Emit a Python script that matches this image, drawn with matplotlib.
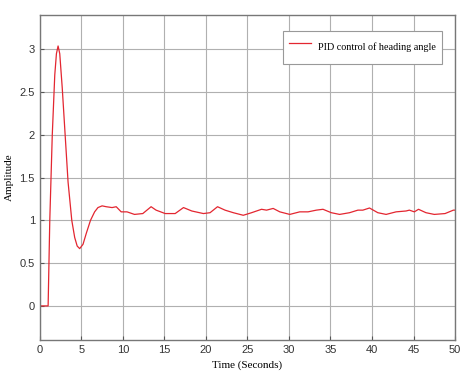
import matplotlib.pyplot as plt

# step response
time_s = [0, 1.0, 1.2, 1.5, 1.8, 2.0, 2.2, 2.4, 2.7, 3.05, 3.4, 3.85, 4.2, 4.5, 4.8,
          5.2, 5.6, 6.1, 6.6, 7.0, 7.5, 8.0, 8.7, 9.2, 9.8, 10.5, 11.4, 12.4,
          13.4, 14.0, 15.1, 16.3, 17.3, 18.3, 19.7, 20.5, 21.4, 22.3, 23.3,
          24.5, 25.5, 26.7, 27.3, 28.1, 28.9, 30.1, 31.3, 32.3, 33.3, 34.1,
          35.1, 36.1, 37.3, 38.3, 38.9, 39.7, 40.7, 41.7, 42.9, 44.1, 44.5,
          45.1, 45.6, 46.5, 47.5, 48.8, 49.8, 50.0]
amplitude = [0, 0, 1.0, 2.0, 2.7, 2.95, 3.04, 2.95, 2.55, 2.0, 1.45, 1.0, 0.8, 0.7, 0.67,
             0.72, 0.85, 1.0, 1.1, 1.15, 1.17, 1.16, 1.15, 1.16, 1.1, 1.1, 1.07, 1.08,
             1.16, 1.12, 1.08, 1.08, 1.15, 1.11, 1.08, 1.09, 1.16, 1.12, 1.09,
             1.06, 1.09, 1.13, 1.12, 1.14, 1.10, 1.07, 1.10, 1.10, 1.12, 1.13,
             1.09, 1.07, 1.09, 1.12, 1.12, 1.145, 1.09, 1.07, 1.10, 1.11, 1.12,
             1.10, 1.13, 1.09, 1.07, 1.08, 1.12, 1.12]
x_ticks = [0, 5, 10, 15, 20, 25, 30, 35, 40, 45, 50]
y_ticks = [0, 0.5, 1, 1.5, 2, 2.5, 3]
y_tick_labels = ['0', '0.5', '1', '1.5', '2', '2.5', '3']

fig = plt.figure(figsize=(4.74, 3.8), dpi=100)
ax = fig.add_axes([0.084, 0.105, 0.876, 0.855])

ax.plot(time_s, amplitude, color='#e32630', linewidth=0.9,
        label='PID control of heading angle')

ax.set_xlim(0, 50)
ax.set_ylim(-0.4, 3.4)
ax.set_xticks(x_ticks)
ax.set_yticks(y_ticks)
ax.set_yticklabels(y_tick_labels)
ax.grid(True, color='#b0b0b0', linewidth=0.8)
ax.tick_params(direction='in', length=3, colors='#555555', labelsize=8,
               labelcolor='#333333')
for lab in ax.get_xticklabels() + ax.get_yticklabels():
    lab.set_family('Liberation Sans')
for s in ax.spines.values():
    s.set_color('#777777')
    s.set_linewidth(1.0)

ax.set_xlabel('Time (Seconds)', family='Liberation Serif', fontsize=8)
ax.set_ylabel('Amplitude', family='Liberation Serif', fontsize=8)

leg = ax.legend(loc='upper right', bbox_to_anchor=(0.981, 0.968),
                prop={'family': 'Liberation Serif', 'size': 7.3},
                fancybox=False, framealpha=1, borderpad=0.6,
                handlelength=2.2, handletextpad=0.7, handleheight=2.8)
leg.get_frame().set_edgecolor('#999999')
leg.get_frame().set_linewidth(0.8)

fig.savefig('out.png', dpi=100)
